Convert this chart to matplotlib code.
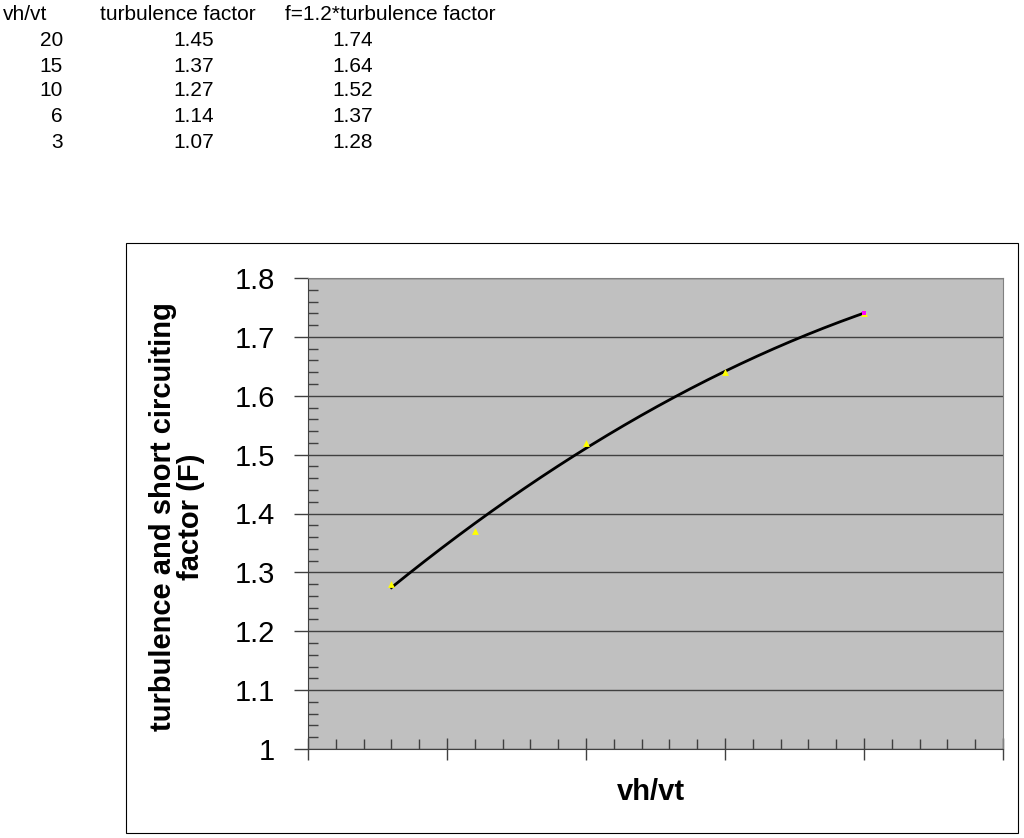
import matplotlib.pyplot as plt
import numpy as np
from matplotlib.patches import Rectangle
from matplotlib.ticker import MultipleLocator, NullFormatter

# table data
vh_vt = [20, 15, 10, 6, 3]
turb_factor = [1.45, 1.37, 1.27, 1.14, 1.07]
f_factor = [1.74, 1.64, 1.52, 1.37, 1.28]
headers = ["vh/vt", "turbulence factor", "f=1.2*turbulence factor"]
y_labels = ["1", "1.1", "1.2", "1.3", "1.4", "1.5", "1.6", "1.7", "1.8"]

plt.rcParams['font.family'] = ['Liberation Sans', 'DejaVu Sans']

fig = plt.figure(figsize=(10.24, 8.38), dpi=100)

# helpers: pixel -> figure fraction
W, H = 1024.0, 838.0
def fx(px):
    return px / W
def fy(py):
    return 1 - py / H

# spreadsheet table at the top
tsize = 15
fig.text(fx(3), fy(14), headers[0], fontsize=tsize, va='center', ha='left')
fig.text(fx(100), fy(14), headers[1], fontsize=tsize, va='center', ha='left')
fig.text(fx(285), fy(14), headers[2], fontsize=tsize, va='center', ha='left')
row_y = [41, 66, 91, 116, 142]
for i in range(len(vh_vt)):
    fig.text(fx(63), fy(row_y[i]), str(vh_vt[i]), fontsize=tsize, va='center', ha='right')
    fig.text(fx(214), fy(row_y[i]), "%.2f" % turb_factor[i], fontsize=tsize, va='center', ha='right')
    fig.text(fx(373), fy(row_y[i]), "%.2f" % f_factor[i], fontsize=tsize, va='center', ha='right')

# chart frame
fig.patches.append(Rectangle((fx(126), fy(833)), fx(1018) - fx(126), fy(243) - fy(833),
                             transform=fig.transFigure, fill=False, edgecolor='black', linewidth=0.8))

ax = fig.add_axes([fx(308), fy(749), fx(1003) - fx(308), fy(278) - fy(749)])
ax.set_facecolor('#C0C0C0')
ax.set_xlim(0, 25)
ax.set_ylim(1, 1.8)

# 2nd order trendline through the f values
coef = np.polyfit(vh_vt, f_factor, 2)
xs = np.linspace(min(vh_vt), max(vh_vt), 200)
ax.plot(xs, np.polyval(coef, xs), color='black', linewidth=2, zorder=3)

ax.scatter(vh_vt, f_factor, marker='^', s=24, color='yellow', zorder=4, linewidths=0)
ax.scatter([vh_vt[0]], [f_factor[0]], marker='s', s=9, color='#FF00FF', zorder=5, linewidths=0)

ax.xaxis.set_major_locator(MultipleLocator(5))
ax.xaxis.set_minor_locator(MultipleLocator(1))
ax.xaxis.set_major_formatter(NullFormatter())
ax.set_yticks(np.arange(1, 1.81, 0.1))
ax.set_yticklabels(y_labels)
ax.yaxis.set_minor_locator(MultipleLocator(0.02))
ax.tick_params(axis='x', which='major', direction='inout', length=16, width=1, color='#404040')
ax.tick_params(axis='x', which='minor', direction='in', length=7, width=1, color='#404040')
ax.tick_params(axis='y', which='major', direction='out', length=10, width=1, color='#404040',
               labelsize=21, pad=14)
ax.tick_params(axis='y', which='minor', direction='in', length=7, width=1, color='#404040')

ax.grid(axis='y', which='major', color='#404040', linewidth=1)
ax.set_axisbelow(True)
for side in ['top', 'right']:
    ax.spines[side].set_color('#808080')
for side in ['left', 'bottom']:
    ax.spines[side].set_color('#404040')

fig.text(fx(651), fy(792), 'vh/vt', fontsize=21, fontweight='bold', ha='center', va='center')
fig.text(fx(177), fy(517), 'turbulence and short circuiting\nfactor (F)', fontsize=21,
         fontweight='bold', rotation=90, ha='center', va='center', multialignment='center',
         linespacing=1.0)

fig.savefig('out.png', dpi=100)
